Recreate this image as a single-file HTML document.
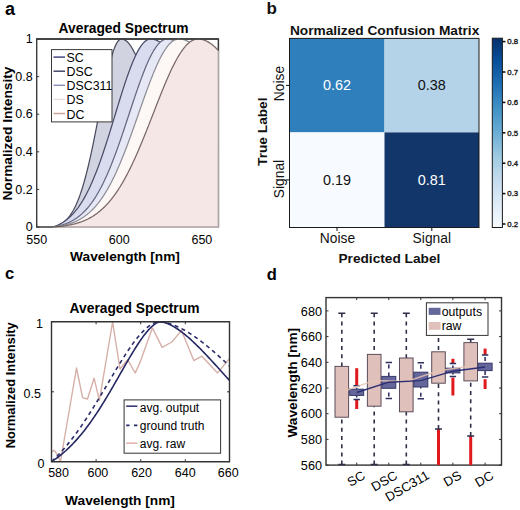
<!DOCTYPE html>
<html><head><meta charset="utf-8"><style>
html,body{margin:0;padding:0;background:#fff;}
svg{display:block;font-family:"Liberation Sans", sans-serif;}
</style></head><body>
<svg width="520" height="510" viewBox="0 0 520 510">
<rect width="520" height="510" fill="#fff"/>
<clipPath id="clipa"><rect x="36.70" y="39.00" width="181.70" height="188.00"/></clipPath>
<path d="M36.7,39.0 H218.4 V227.0 H36.7 Z" fill="none" stroke="#3a3a3a" stroke-width="1.4"/>
<line x1="36.7" y1="227.0" x2="39.2" y2="227.0" stroke="#3a3a3a" stroke-width="1"/>
<text x="32.7" y="231.2" text-anchor="end" font-size="12.5">0</text>
<line x1="36.7" y1="189.4" x2="39.2" y2="189.4" stroke="#3a3a3a" stroke-width="1"/>
<text x="32.7" y="193.6" text-anchor="end" font-size="12.5">0.2</text>
<line x1="36.7" y1="151.8" x2="39.2" y2="151.8" stroke="#3a3a3a" stroke-width="1"/>
<text x="32.7" y="156.0" text-anchor="end" font-size="12.5">0.4</text>
<line x1="36.7" y1="114.2" x2="39.2" y2="114.2" stroke="#3a3a3a" stroke-width="1"/>
<text x="32.7" y="118.4" text-anchor="end" font-size="12.5">0.6</text>
<line x1="36.7" y1="76.6" x2="39.2" y2="76.6" stroke="#3a3a3a" stroke-width="1"/>
<text x="32.7" y="80.8" text-anchor="end" font-size="12.5">0.8</text>
<line x1="36.7" y1="39.0" x2="39.2" y2="39.0" stroke="#3a3a3a" stroke-width="1"/>
<text x="32.7" y="43.2" text-anchor="end" font-size="12.5">1</text>
<line x1="36.7" y1="227.0" x2="36.7" y2="224.5" stroke="#3a3a3a" stroke-width="1"/>
<text x="36.7" y="243.5" text-anchor="middle" font-size="12.5">550</text>
<line x1="119.3" y1="227.0" x2="119.3" y2="224.5" stroke="#3a3a3a" stroke-width="1"/>
<text x="119.3" y="243.5" text-anchor="middle" font-size="12.5">600</text>
<line x1="201.9" y1="227.0" x2="201.9" y2="224.5" stroke="#3a3a3a" stroke-width="1"/>
<text x="201.9" y="243.5" text-anchor="middle" font-size="12.5">650</text>
<clipPath id="clipa2"><rect x="36.70" y="38.00" width="182.70" height="190.00"/></clipPath>
<g clip-path="url(#clipa2)">
<path d="M53.22,227.00 L54.04,226.79 L54.87,226.56 L55.70,226.30 L56.52,226.02 L57.35,225.71 L58.17,225.37 L59.00,225.00 L59.83,224.59 L60.65,224.14 L61.48,223.65 L62.30,223.12 L63.13,222.55 L63.95,221.92 L64.78,221.24 L65.61,220.50 L66.43,219.70 L67.26,218.84 L68.08,217.92 L68.91,216.92 L69.74,215.85 L70.56,214.70 L71.39,213.47 L72.21,212.16 L73.04,210.76 L73.87,209.27 L74.69,207.68 L75.52,205.99 L76.34,204.20 L77.17,202.31 L78.00,200.31 L78.82,198.20 L79.65,195.99 L80.47,193.65 L81.30,191.21 L82.12,188.65 L82.95,185.97 L83.78,183.18 L84.60,180.27 L85.43,177.24 L86.25,174.10 L87.08,170.86 L87.91,167.50 L88.73,164.03 L89.56,160.47 L90.38,156.80 L91.21,153.04 L92.04,149.20 L92.86,145.28 L93.69,141.28 L94.51,137.21 L95.34,133.09 L96.17,128.92 L96.99,124.72 L97.82,120.48 L98.64,116.22 L99.47,111.96 L100.30,107.70 L101.12,103.46 L101.95,99.25 L102.77,95.08 L103.60,90.97 L104.42,86.92 L105.25,82.95 L106.08,79.08 L106.90,75.32 L107.73,71.68 L108.55,68.17 L109.38,64.81 L110.21,61.61 L111.03,58.58 L111.86,55.73 L112.68,53.07 L113.51,50.62 L114.34,48.39 L115.16,46.37 L115.99,44.59 L116.81,43.04 L117.64,41.73 L118.47,40.68 L119.29,39.88 L120.12,39.33 L120.94,39.05 L121.77,39.01 L122.59,39.11 L123.42,39.32 L124.25,39.65 L125.07,40.09 L125.90,40.64 L126.72,41.30 L127.55,42.07 L128.38,42.94 L129.20,43.92 L130.03,45.01 L130.85,46.20 L131.68,47.48 L132.51,48.87 L133.33,50.35 L134.16,51.92 L134.98,53.59 L135.81,55.34 L136.63,57.18 L137.46,59.10 L138.29,61.09 L139.11,63.17 L139.94,65.31 L140.76,67.52 L141.59,69.80 L142.42,72.13 L143.24,74.53 L144.07,76.98 L144.89,79.48 L145.72,82.02 L146.55,84.61 L147.37,87.23 L148.20,89.89 L149.02,92.58 L149.85,95.30 L150.68,98.05 L151.50,100.81 L152.33,103.59 L153.15,106.38 L153.98,109.18 L154.81,111.98 L155.63,114.79 L156.46,117.59 L157.28,120.40 L158.11,123.19 L158.93,125.97 L159.76,128.74 L160.59,131.49 L161.41,134.22 L162.24,136.93 L163.06,139.62 L163.89,142.28 L164.72,144.91 L165.54,147.51 L166.37,150.07 L167.19,152.60 L168.02,155.09 L168.85,157.54 L169.67,159.95 L170.50,162.32 L171.32,164.65 L172.15,166.93 L172.97,169.16 L173.80,171.35 L174.63,173.49 L175.45,175.59 L176.28,177.63 L177.10,179.63 L177.93,181.57 L178.76,183.47 L179.58,185.31 L180.41,187.11 L181.23,188.85 L182.06,190.54 L182.89,192.19 L183.71,193.78 L184.54,195.33 L185.36,196.82 L186.19,198.27 L187.02,199.67 L187.84,201.02 L188.67,202.32 L189.49,203.58 L190.32,204.79 L191.14,205.96 L191.97,207.08 L192.80,208.16 L193.62,209.20 L194.45,210.19 L195.27,211.15 L196.10,212.07 L196.93,212.95 L197.75,213.79 L198.58,214.59 L199.40,215.36 L200.23,216.10 L201.06,216.80 L201.88,217.47 L202.71,218.11 L203.53,218.72 L204.36,219.30 L205.19,219.85 L206.01,220.37 L206.84,220.87 L207.66,221.34 L208.49,221.79 L209.31,222.22 L210.14,222.62 L210.97,223.00 L211.79,223.36 L212.62,223.71 L213.44,224.03 L214.27,224.33 L215.10,224.62 L215.92,224.89 L216.75,225.15 L217.57,225.39 L218.40,225.62 L219.40,225.62 L219.40,228.00 L53.22,228.00 Z" fill="#d2d3e0" stroke="none"/>
<path d="M53.22,227.00 L54.04,226.79 L54.87,226.56 L55.70,226.30 L56.52,226.02 L57.35,225.71 L58.17,225.37 L59.00,225.00 L59.83,224.59 L60.65,224.14 L61.48,223.65 L62.30,223.12 L63.13,222.55 L63.95,221.92 L64.78,221.24 L65.61,220.50 L66.43,219.70 L67.26,218.84 L68.08,217.92 L68.91,216.92 L69.74,215.85 L70.56,214.70 L71.39,213.47 L72.21,212.16 L73.04,210.76 L73.87,209.27 L74.69,207.68 L75.52,205.99 L76.34,204.20 L77.17,202.31 L78.00,200.31 L78.82,198.20 L79.65,195.99 L80.47,193.65 L81.30,191.21 L82.12,188.65 L82.95,185.97 L83.78,183.18 L84.60,180.27 L85.43,177.24 L86.25,174.10 L87.08,170.86 L87.91,167.50 L88.73,164.03 L89.56,160.47 L90.38,156.80 L91.21,153.04 L92.04,149.20 L92.86,145.28 L93.69,141.28 L94.51,137.21 L95.34,133.09 L96.17,128.92 L96.99,124.72 L97.82,120.48 L98.64,116.22 L99.47,111.96 L100.30,107.70 L101.12,103.46 L101.95,99.25 L102.77,95.08 L103.60,90.97 L104.42,86.92 L105.25,82.95 L106.08,79.08 L106.90,75.32 L107.73,71.68 L108.55,68.17 L109.38,64.81 L110.21,61.61 L111.03,58.58 L111.86,55.73 L112.68,53.07 L113.51,50.62 L114.34,48.39 L115.16,46.37 L115.99,44.59 L116.81,43.04 L117.64,41.73 L118.47,40.68 L119.29,39.88 L120.12,39.33 L120.94,39.05 L121.77,39.01 L122.59,39.11 L123.42,39.32 L124.25,39.65 L125.07,40.09 L125.90,40.64 L126.72,41.30 L127.55,42.07 L128.38,42.94 L129.20,43.92 L130.03,45.01 L130.85,46.20 L131.68,47.48 L132.51,48.87 L133.33,50.35 L134.16,51.92 L134.98,53.59 L135.81,55.34 L136.63,57.18 L137.46,59.10 L138.29,61.09 L139.11,63.17 L139.94,65.31 L140.76,67.52 L141.59,69.80 L142.42,72.13 L143.24,74.53 L144.07,76.98 L144.89,79.48 L145.72,82.02 L146.55,84.61 L147.37,87.23 L148.20,89.89 L149.02,92.58 L149.85,95.30 L150.68,98.05 L151.50,100.81 L152.33,103.59 L153.15,106.38 L153.98,109.18 L154.81,111.98 L155.63,114.79 L156.46,117.59 L157.28,120.40 L158.11,123.19 L158.93,125.97 L159.76,128.74 L160.59,131.49 L161.41,134.22 L162.24,136.93 L163.06,139.62 L163.89,142.28 L164.72,144.91 L165.54,147.51 L166.37,150.07 L167.19,152.60 L168.02,155.09 L168.85,157.54 L169.67,159.95 L170.50,162.32 L171.32,164.65 L172.15,166.93 L172.97,169.16 L173.80,171.35 L174.63,173.49 L175.45,175.59 L176.28,177.63 L177.10,179.63 L177.93,181.57 L178.76,183.47 L179.58,185.31 L180.41,187.11 L181.23,188.85 L182.06,190.54 L182.89,192.19 L183.71,193.78 L184.54,195.33 L185.36,196.82 L186.19,198.27 L187.02,199.67 L187.84,201.02 L188.67,202.32 L189.49,203.58 L190.32,204.79 L191.14,205.96 L191.97,207.08 L192.80,208.16 L193.62,209.20 L194.45,210.19 L195.27,211.15 L196.10,212.07 L196.93,212.95 L197.75,213.79 L198.58,214.59 L199.40,215.36 L200.23,216.10 L201.06,216.80 L201.88,217.47 L202.71,218.11 L203.53,218.72 L204.36,219.30 L205.19,219.85 L206.01,220.37 L206.84,220.87 L207.66,221.34 L208.49,221.79 L209.31,222.22 L210.14,222.62 L210.97,223.00 L211.79,223.36 L212.62,223.71 L213.44,224.03 L214.27,224.33 L215.10,224.62 L215.92,224.89 L216.75,225.15 L217.57,225.39 L218.40,225.62" fill="none" stroke="#4a4b60" stroke-width="1.25"/>
<path d="M53.22,227.00 L54.04,226.71 L54.87,226.40 L55.70,226.07 L56.52,225.73 L57.35,225.37 L58.17,224.98 L59.00,224.58 L59.83,224.16 L60.65,223.71 L61.48,223.24 L62.30,222.75 L63.13,222.24 L63.95,221.70 L64.78,221.13 L65.61,220.53 L66.43,219.91 L67.26,219.26 L68.08,218.58 L68.91,217.86 L69.74,217.12 L70.56,216.34 L71.39,215.54 L72.21,214.69 L73.04,213.81 L73.87,212.90 L74.69,211.94 L75.52,210.95 L76.34,209.93 L77.17,208.86 L78.00,207.75 L78.82,206.60 L79.65,205.41 L80.47,204.18 L81.30,202.90 L82.12,201.58 L82.95,200.22 L83.78,198.81 L84.60,197.36 L85.43,195.86 L86.25,194.32 L87.08,192.73 L87.91,191.09 L88.73,189.41 L89.56,187.68 L90.38,185.91 L91.21,184.09 L92.04,182.22 L92.86,180.30 L93.69,178.34 L94.51,176.34 L95.34,174.29 L96.17,172.20 L96.99,170.06 L97.82,167.88 L98.64,165.66 L99.47,163.40 L100.30,161.10 L101.12,158.75 L101.95,156.38 L102.77,153.96 L103.60,151.52 L104.42,149.04 L105.25,146.52 L106.08,143.98 L106.90,141.42 L107.73,138.82 L108.55,136.21 L109.38,133.57 L110.21,130.91 L111.03,128.24 L111.86,125.55 L112.68,122.86 L113.51,120.15 L114.34,117.44 L115.16,114.73 L115.99,112.01 L116.81,109.30 L117.64,106.60 L118.47,103.90 L119.29,101.22 L120.12,98.55 L120.94,95.90 L121.77,93.27 L122.59,90.67 L123.42,88.09 L124.25,85.55 L125.07,83.04 L125.90,80.58 L126.72,78.15 L127.55,75.77 L128.38,73.43 L129.20,71.15 L130.03,68.93 L130.85,66.76 L131.68,64.65 L132.51,62.61 L133.33,60.64 L134.16,58.73 L134.98,56.90 L135.81,55.14 L136.63,53.47 L137.46,51.87 L138.29,50.36 L139.11,48.93 L139.94,47.60 L140.76,46.35 L141.59,45.20 L142.42,44.13 L143.24,43.17 L144.07,42.30 L144.89,41.53 L145.72,40.86 L146.55,40.30 L147.37,39.83 L148.20,39.47 L149.02,39.21 L149.85,39.05 L150.68,39.00 L151.50,39.03 L152.33,39.10 L153.15,39.23 L153.98,39.40 L154.81,39.62 L155.63,39.90 L156.46,40.22 L157.28,40.60 L158.11,41.02 L158.93,41.49 L159.76,42.01 L160.59,42.57 L161.41,43.18 L162.24,43.84 L163.06,44.55 L163.89,45.30 L164.72,46.10 L165.54,46.94 L166.37,47.83 L167.19,48.76 L168.02,49.73 L168.85,50.74 L169.67,51.80 L170.50,52.89 L171.32,54.03 L172.15,55.20 L172.97,56.41 L173.80,57.66 L174.63,58.94 L175.45,60.26 L176.28,61.61 L177.10,63.00 L177.93,64.42 L178.76,65.87 L179.58,67.35 L180.41,68.86 L181.23,70.39 L182.06,71.96 L182.89,73.55 L183.71,75.16 L184.54,76.80 L185.36,78.46 L186.19,80.14 L187.02,81.84 L187.84,83.57 L188.67,85.31 L189.49,87.06 L190.32,88.84 L191.14,90.63 L191.97,92.43 L192.80,94.24 L193.62,96.07 L194.45,97.90 L195.27,99.75 L196.10,101.60 L196.93,103.47 L197.75,105.33 L198.58,107.21 L199.40,109.08 L200.23,110.96 L201.06,112.84 L201.88,114.73 L202.71,116.61 L203.53,118.49 L204.36,120.37 L205.19,122.25 L206.01,124.12 L206.84,125.99 L207.66,127.85 L208.49,129.71 L209.31,131.56 L210.14,133.40 L210.97,135.23 L211.79,137.05 L212.62,138.86 L213.44,140.67 L214.27,142.45 L215.10,144.23 L215.92,145.99 L216.75,147.74 L217.57,149.48 L218.40,151.20 L219.40,151.20 L219.40,228.00 L53.22,228.00 Z" fill="#d9dcef" stroke="none"/>
<path d="M53.22,227.00 L54.04,226.71 L54.87,226.40 L55.70,226.07 L56.52,225.73 L57.35,225.37 L58.17,224.98 L59.00,224.58 L59.83,224.16 L60.65,223.71 L61.48,223.24 L62.30,222.75 L63.13,222.24 L63.95,221.70 L64.78,221.13 L65.61,220.53 L66.43,219.91 L67.26,219.26 L68.08,218.58 L68.91,217.86 L69.74,217.12 L70.56,216.34 L71.39,215.54 L72.21,214.69 L73.04,213.81 L73.87,212.90 L74.69,211.94 L75.52,210.95 L76.34,209.93 L77.17,208.86 L78.00,207.75 L78.82,206.60 L79.65,205.41 L80.47,204.18 L81.30,202.90 L82.12,201.58 L82.95,200.22 L83.78,198.81 L84.60,197.36 L85.43,195.86 L86.25,194.32 L87.08,192.73 L87.91,191.09 L88.73,189.41 L89.56,187.68 L90.38,185.91 L91.21,184.09 L92.04,182.22 L92.86,180.30 L93.69,178.34 L94.51,176.34 L95.34,174.29 L96.17,172.20 L96.99,170.06 L97.82,167.88 L98.64,165.66 L99.47,163.40 L100.30,161.10 L101.12,158.75 L101.95,156.38 L102.77,153.96 L103.60,151.52 L104.42,149.04 L105.25,146.52 L106.08,143.98 L106.90,141.42 L107.73,138.82 L108.55,136.21 L109.38,133.57 L110.21,130.91 L111.03,128.24 L111.86,125.55 L112.68,122.86 L113.51,120.15 L114.34,117.44 L115.16,114.73 L115.99,112.01 L116.81,109.30 L117.64,106.60 L118.47,103.90 L119.29,101.22 L120.12,98.55 L120.94,95.90 L121.77,93.27 L122.59,90.67 L123.42,88.09 L124.25,85.55 L125.07,83.04 L125.90,80.58 L126.72,78.15 L127.55,75.77 L128.38,73.43 L129.20,71.15 L130.03,68.93 L130.85,66.76 L131.68,64.65 L132.51,62.61 L133.33,60.64 L134.16,58.73 L134.98,56.90 L135.81,55.14 L136.63,53.47 L137.46,51.87 L138.29,50.36 L139.11,48.93 L139.94,47.60 L140.76,46.35 L141.59,45.20 L142.42,44.13 L143.24,43.17 L144.07,42.30 L144.89,41.53 L145.72,40.86 L146.55,40.30 L147.37,39.83 L148.20,39.47 L149.02,39.21 L149.85,39.05 L150.68,39.00 L151.50,39.03 L152.33,39.10 L153.15,39.23 L153.98,39.40 L154.81,39.62 L155.63,39.90 L156.46,40.22 L157.28,40.60 L158.11,41.02 L158.93,41.49 L159.76,42.01 L160.59,42.57 L161.41,43.18 L162.24,43.84 L163.06,44.55 L163.89,45.30 L164.72,46.10 L165.54,46.94 L166.37,47.83 L167.19,48.76 L168.02,49.73 L168.85,50.74 L169.67,51.80 L170.50,52.89 L171.32,54.03 L172.15,55.20 L172.97,56.41 L173.80,57.66 L174.63,58.94 L175.45,60.26 L176.28,61.61 L177.10,63.00 L177.93,64.42 L178.76,65.87 L179.58,67.35 L180.41,68.86 L181.23,70.39 L182.06,71.96 L182.89,73.55 L183.71,75.16 L184.54,76.80 L185.36,78.46 L186.19,80.14 L187.02,81.84 L187.84,83.57 L188.67,85.31 L189.49,87.06 L190.32,88.84 L191.14,90.63 L191.97,92.43 L192.80,94.24 L193.62,96.07 L194.45,97.90 L195.27,99.75 L196.10,101.60 L196.93,103.47 L197.75,105.33 L198.58,107.21 L199.40,109.08 L200.23,110.96 L201.06,112.84 L201.88,114.73 L202.71,116.61 L203.53,118.49 L204.36,120.37 L205.19,122.25 L206.01,124.12 L206.84,125.99 L207.66,127.85 L208.49,129.71 L209.31,131.56 L210.14,133.40 L210.97,135.23 L211.79,137.05 L212.62,138.86 L213.44,140.67 L214.27,142.45 L215.10,144.23 L215.92,145.99 L216.75,147.74 L217.57,149.48 L218.40,151.20" fill="none" stroke="#4a4c68" stroke-width="1.25"/>
<path d="M53.22,227.00 L54.04,226.86 L54.87,226.71 L55.70,226.55 L56.52,226.38 L57.35,226.20 L58.17,226.02 L59.00,225.82 L59.83,225.61 L60.65,225.39 L61.48,225.15 L62.30,224.91 L63.13,224.65 L63.95,224.37 L64.78,224.09 L65.61,223.79 L66.43,223.47 L67.26,223.13 L68.08,222.78 L68.91,222.42 L69.74,222.03 L70.56,221.63 L71.39,221.20 L72.21,220.76 L73.04,220.29 L73.87,219.81 L74.69,219.30 L75.52,218.77 L76.34,218.22 L77.17,217.64 L78.00,217.03 L78.82,216.40 L79.65,215.75 L80.47,215.06 L81.30,214.35 L82.12,213.61 L82.95,212.84 L83.78,212.04 L84.60,211.21 L85.43,210.35 L86.25,209.46 L87.08,208.53 L87.91,207.57 L88.73,206.58 L89.56,205.55 L90.38,204.48 L91.21,203.38 L92.04,202.25 L92.86,201.07 L93.69,199.86 L94.51,198.61 L95.34,197.32 L96.17,196.00 L96.99,194.63 L97.82,193.23 L98.64,191.78 L99.47,190.30 L100.30,188.77 L101.12,187.21 L101.95,185.61 L102.77,183.96 L103.60,182.28 L104.42,180.55 L105.25,178.79 L106.08,176.99 L106.90,175.14 L107.73,173.26 L108.55,171.34 L109.38,169.39 L110.21,167.39 L111.03,165.36 L111.86,163.29 L112.68,161.19 L113.51,159.06 L114.34,156.89 L115.16,154.69 L115.99,152.46 L116.81,150.20 L117.64,147.91 L118.47,145.59 L119.29,143.25 L120.12,140.89 L120.94,138.50 L121.77,136.09 L122.59,133.66 L123.42,131.22 L124.25,128.76 L125.07,126.29 L125.90,123.81 L126.72,121.31 L127.55,118.81 L128.38,116.31 L129.20,113.80 L130.03,111.30 L130.85,108.79 L131.68,106.29 L132.51,103.80 L133.33,101.32 L134.16,98.85 L134.98,96.40 L135.81,93.96 L136.63,91.54 L137.46,89.15 L138.29,86.78 L139.11,84.44 L139.94,82.13 L140.76,79.86 L141.59,77.62 L142.42,75.42 L143.24,73.26 L144.07,71.15 L144.89,69.08 L145.72,67.07 L146.55,65.10 L147.37,63.19 L148.20,61.34 L149.02,59.55 L149.85,57.81 L150.68,56.15 L151.50,54.54 L152.33,53.01 L153.15,51.55 L153.98,50.16 L154.81,48.84 L155.63,47.60 L156.46,46.44 L157.28,45.36 L158.11,44.36 L158.93,43.44 L159.76,42.60 L160.59,41.85 L161.41,41.19 L162.24,40.61 L163.06,40.12 L163.89,39.72 L164.72,39.40 L165.54,39.18 L166.37,39.04 L167.19,39.00 L168.02,39.02 L168.85,39.09 L169.67,39.20 L170.50,39.35 L171.32,39.54 L172.15,39.78 L172.97,40.07 L173.80,40.39 L174.63,40.76 L175.45,41.17 L176.28,41.62 L177.10,42.12 L177.93,42.65 L178.76,43.23 L179.58,43.85 L180.41,44.51 L181.23,45.20 L182.06,45.94 L182.89,46.72 L183.71,47.53 L184.54,48.38 L185.36,49.27 L186.19,50.20 L187.02,51.16 L187.84,52.16 L188.67,53.19 L189.49,54.26 L190.32,55.36 L191.14,56.49 L191.97,57.66 L192.80,58.86 L193.62,60.08 L194.45,61.34 L195.27,62.62 L196.10,63.94 L196.93,65.28 L197.75,66.65 L198.58,68.04 L199.40,69.46 L200.23,70.90 L201.06,72.36 L201.88,73.85 L202.71,75.35 L203.53,76.88 L204.36,78.43 L205.19,80.00 L206.01,81.58 L206.84,83.18 L207.66,84.79 L208.49,86.43 L209.31,88.07 L210.14,89.73 L210.97,91.40 L211.79,93.08 L212.62,94.77 L213.44,96.47 L214.27,98.18 L215.10,99.90 L215.92,101.62 L216.75,103.35 L217.57,105.08 L218.40,106.82 L219.40,106.82 L219.40,228.00 L53.22,228.00 Z" fill="#e7e8f6" stroke="none"/>
<path d="M53.22,227.00 L54.04,226.86 L54.87,226.71 L55.70,226.55 L56.52,226.38 L57.35,226.20 L58.17,226.02 L59.00,225.82 L59.83,225.61 L60.65,225.39 L61.48,225.15 L62.30,224.91 L63.13,224.65 L63.95,224.37 L64.78,224.09 L65.61,223.79 L66.43,223.47 L67.26,223.13 L68.08,222.78 L68.91,222.42 L69.74,222.03 L70.56,221.63 L71.39,221.20 L72.21,220.76 L73.04,220.29 L73.87,219.81 L74.69,219.30 L75.52,218.77 L76.34,218.22 L77.17,217.64 L78.00,217.03 L78.82,216.40 L79.65,215.75 L80.47,215.06 L81.30,214.35 L82.12,213.61 L82.95,212.84 L83.78,212.04 L84.60,211.21 L85.43,210.35 L86.25,209.46 L87.08,208.53 L87.91,207.57 L88.73,206.58 L89.56,205.55 L90.38,204.48 L91.21,203.38 L92.04,202.25 L92.86,201.07 L93.69,199.86 L94.51,198.61 L95.34,197.32 L96.17,196.00 L96.99,194.63 L97.82,193.23 L98.64,191.78 L99.47,190.30 L100.30,188.77 L101.12,187.21 L101.95,185.61 L102.77,183.96 L103.60,182.28 L104.42,180.55 L105.25,178.79 L106.08,176.99 L106.90,175.14 L107.73,173.26 L108.55,171.34 L109.38,169.39 L110.21,167.39 L111.03,165.36 L111.86,163.29 L112.68,161.19 L113.51,159.06 L114.34,156.89 L115.16,154.69 L115.99,152.46 L116.81,150.20 L117.64,147.91 L118.47,145.59 L119.29,143.25 L120.12,140.89 L120.94,138.50 L121.77,136.09 L122.59,133.66 L123.42,131.22 L124.25,128.76 L125.07,126.29 L125.90,123.81 L126.72,121.31 L127.55,118.81 L128.38,116.31 L129.20,113.80 L130.03,111.30 L130.85,108.79 L131.68,106.29 L132.51,103.80 L133.33,101.32 L134.16,98.85 L134.98,96.40 L135.81,93.96 L136.63,91.54 L137.46,89.15 L138.29,86.78 L139.11,84.44 L139.94,82.13 L140.76,79.86 L141.59,77.62 L142.42,75.42 L143.24,73.26 L144.07,71.15 L144.89,69.08 L145.72,67.07 L146.55,65.10 L147.37,63.19 L148.20,61.34 L149.02,59.55 L149.85,57.81 L150.68,56.15 L151.50,54.54 L152.33,53.01 L153.15,51.55 L153.98,50.16 L154.81,48.84 L155.63,47.60 L156.46,46.44 L157.28,45.36 L158.11,44.36 L158.93,43.44 L159.76,42.60 L160.59,41.85 L161.41,41.19 L162.24,40.61 L163.06,40.12 L163.89,39.72 L164.72,39.40 L165.54,39.18 L166.37,39.04 L167.19,39.00 L168.02,39.02 L168.85,39.09 L169.67,39.20 L170.50,39.35 L171.32,39.54 L172.15,39.78 L172.97,40.07 L173.80,40.39 L174.63,40.76 L175.45,41.17 L176.28,41.62 L177.10,42.12 L177.93,42.65 L178.76,43.23 L179.58,43.85 L180.41,44.51 L181.23,45.20 L182.06,45.94 L182.89,46.72 L183.71,47.53 L184.54,48.38 L185.36,49.27 L186.19,50.20 L187.02,51.16 L187.84,52.16 L188.67,53.19 L189.49,54.26 L190.32,55.36 L191.14,56.49 L191.97,57.66 L192.80,58.86 L193.62,60.08 L194.45,61.34 L195.27,62.62 L196.10,63.94 L196.93,65.28 L197.75,66.65 L198.58,68.04 L199.40,69.46 L200.23,70.90 L201.06,72.36 L201.88,73.85 L202.71,75.35 L203.53,76.88 L204.36,78.43 L205.19,80.00 L206.01,81.58 L206.84,83.18 L207.66,84.79 L208.49,86.43 L209.31,88.07 L210.14,89.73 L210.97,91.40 L211.79,93.08 L212.62,94.77 L213.44,96.47 L214.27,98.18 L215.10,99.90 L215.92,101.62 L216.75,103.35 L217.57,105.08 L218.40,106.82" fill="none" stroke="#666780" stroke-width="1.25"/>
<path d="M53.22,227.00 L54.04,226.91 L54.87,226.81 L55.70,226.70 L56.52,226.59 L57.35,226.47 L58.17,226.35 L59.00,226.21 L59.83,226.07 L60.65,225.93 L61.48,225.77 L62.30,225.61 L63.13,225.43 L63.95,225.25 L64.78,225.06 L65.61,224.86 L66.43,224.65 L67.26,224.42 L68.08,224.19 L68.91,223.94 L69.74,223.69 L70.56,223.41 L71.39,223.13 L72.21,222.83 L73.04,222.52 L73.87,222.19 L74.69,221.85 L75.52,221.49 L76.34,221.11 L77.17,220.72 L78.00,220.31 L78.82,219.88 L79.65,219.44 L80.47,218.97 L81.30,218.48 L82.12,217.98 L82.95,217.45 L83.78,216.90 L84.60,216.33 L85.43,215.73 L86.25,215.11 L87.08,214.47 L87.91,213.80 L88.73,213.11 L89.56,212.39 L90.38,211.64 L91.21,210.87 L92.04,210.06 L92.86,209.23 L93.69,208.37 L94.51,207.49 L95.34,206.57 L96.17,205.62 L96.99,204.63 L97.82,203.62 L98.64,202.58 L99.47,201.50 L100.30,200.39 L101.12,199.24 L101.95,198.06 L102.77,196.85 L103.60,195.61 L104.42,194.32 L105.25,193.01 L106.08,191.65 L106.90,190.27 L107.73,188.84 L108.55,187.38 L109.38,185.89 L110.21,184.36 L111.03,182.79 L111.86,181.19 L112.68,179.55 L113.51,177.88 L114.34,176.17 L115.16,174.43 L115.99,172.65 L116.81,170.84 L117.64,168.99 L118.47,167.12 L119.29,165.21 L120.12,163.26 L120.94,161.29 L121.77,159.28 L122.59,157.25 L123.42,155.19 L124.25,153.09 L125.07,150.98 L125.90,148.83 L126.72,146.66 L127.55,144.47 L128.38,142.26 L129.20,140.02 L130.03,137.77 L130.85,135.49 L131.68,133.20 L132.51,130.90 L133.33,128.58 L134.16,126.25 L134.98,123.91 L135.81,121.56 L136.63,119.20 L137.46,116.84 L138.29,114.48 L139.11,112.11 L139.94,109.75 L140.76,107.39 L141.59,105.04 L142.42,102.69 L143.24,100.35 L144.07,98.03 L144.89,95.72 L145.72,93.42 L146.55,91.15 L147.37,88.89 L148.20,86.66 L149.02,84.45 L149.85,82.27 L150.68,80.12 L151.50,78.00 L152.33,75.92 L153.15,73.87 L153.98,71.86 L154.81,69.89 L155.63,67.97 L156.46,66.09 L157.28,64.26 L158.11,62.47 L158.93,60.74 L159.76,59.07 L160.59,57.45 L161.41,55.88 L162.24,54.38 L163.06,52.94 L163.89,51.56 L164.72,50.24 L165.54,48.99 L166.37,47.81 L167.19,46.70 L168.02,45.66 L168.85,44.69 L169.67,43.79 L170.50,42.97 L171.32,42.22 L172.15,41.55 L172.97,40.95 L173.80,40.44 L174.63,40.00 L175.45,39.64 L176.28,39.36 L177.10,39.16 L177.93,39.04 L178.76,39.00 L179.58,39.02 L180.41,39.08 L181.23,39.17 L182.06,39.31 L182.89,39.48 L183.71,39.69 L184.54,39.94 L185.36,40.23 L186.19,40.56 L187.02,40.92 L187.84,41.32 L188.67,41.76 L189.49,42.24 L190.32,42.75 L191.14,43.30 L191.97,43.88 L192.80,44.50 L193.62,45.16 L194.45,45.85 L195.27,46.58 L196.10,47.34 L196.93,48.13 L197.75,48.95 L198.58,49.81 L199.40,50.70 L200.23,51.63 L201.06,52.58 L201.88,53.56 L202.71,54.58 L203.53,55.62 L204.36,56.69 L205.19,57.79 L206.01,58.92 L206.84,60.08 L207.66,61.26 L208.49,62.46 L209.31,63.70 L210.14,64.95 L210.97,66.23 L211.79,67.53 L212.62,68.86 L213.44,70.20 L214.27,71.57 L215.10,72.96 L215.92,74.36 L216.75,75.79 L217.57,77.23 L218.40,78.69 L219.40,78.69 L219.40,228.00 L53.22,228.00 Z" fill="#fdf8f5" stroke="none"/>
<path d="M53.22,227.00 L54.04,226.91 L54.87,226.81 L55.70,226.70 L56.52,226.59 L57.35,226.47 L58.17,226.35 L59.00,226.21 L59.83,226.07 L60.65,225.93 L61.48,225.77 L62.30,225.61 L63.13,225.43 L63.95,225.25 L64.78,225.06 L65.61,224.86 L66.43,224.65 L67.26,224.42 L68.08,224.19 L68.91,223.94 L69.74,223.69 L70.56,223.41 L71.39,223.13 L72.21,222.83 L73.04,222.52 L73.87,222.19 L74.69,221.85 L75.52,221.49 L76.34,221.11 L77.17,220.72 L78.00,220.31 L78.82,219.88 L79.65,219.44 L80.47,218.97 L81.30,218.48 L82.12,217.98 L82.95,217.45 L83.78,216.90 L84.60,216.33 L85.43,215.73 L86.25,215.11 L87.08,214.47 L87.91,213.80 L88.73,213.11 L89.56,212.39 L90.38,211.64 L91.21,210.87 L92.04,210.06 L92.86,209.23 L93.69,208.37 L94.51,207.49 L95.34,206.57 L96.17,205.62 L96.99,204.63 L97.82,203.62 L98.64,202.58 L99.47,201.50 L100.30,200.39 L101.12,199.24 L101.95,198.06 L102.77,196.85 L103.60,195.61 L104.42,194.32 L105.25,193.01 L106.08,191.65 L106.90,190.27 L107.73,188.84 L108.55,187.38 L109.38,185.89 L110.21,184.36 L111.03,182.79 L111.86,181.19 L112.68,179.55 L113.51,177.88 L114.34,176.17 L115.16,174.43 L115.99,172.65 L116.81,170.84 L117.64,168.99 L118.47,167.12 L119.29,165.21 L120.12,163.26 L120.94,161.29 L121.77,159.28 L122.59,157.25 L123.42,155.19 L124.25,153.09 L125.07,150.98 L125.90,148.83 L126.72,146.66 L127.55,144.47 L128.38,142.26 L129.20,140.02 L130.03,137.77 L130.85,135.49 L131.68,133.20 L132.51,130.90 L133.33,128.58 L134.16,126.25 L134.98,123.91 L135.81,121.56 L136.63,119.20 L137.46,116.84 L138.29,114.48 L139.11,112.11 L139.94,109.75 L140.76,107.39 L141.59,105.04 L142.42,102.69 L143.24,100.35 L144.07,98.03 L144.89,95.72 L145.72,93.42 L146.55,91.15 L147.37,88.89 L148.20,86.66 L149.02,84.45 L149.85,82.27 L150.68,80.12 L151.50,78.00 L152.33,75.92 L153.15,73.87 L153.98,71.86 L154.81,69.89 L155.63,67.97 L156.46,66.09 L157.28,64.26 L158.11,62.47 L158.93,60.74 L159.76,59.07 L160.59,57.45 L161.41,55.88 L162.24,54.38 L163.06,52.94 L163.89,51.56 L164.72,50.24 L165.54,48.99 L166.37,47.81 L167.19,46.70 L168.02,45.66 L168.85,44.69 L169.67,43.79 L170.50,42.97 L171.32,42.22 L172.15,41.55 L172.97,40.95 L173.80,40.44 L174.63,40.00 L175.45,39.64 L176.28,39.36 L177.10,39.16 L177.93,39.04 L178.76,39.00 L179.58,39.02 L180.41,39.08 L181.23,39.17 L182.06,39.31 L182.89,39.48 L183.71,39.69 L184.54,39.94 L185.36,40.23 L186.19,40.56 L187.02,40.92 L187.84,41.32 L188.67,41.76 L189.49,42.24 L190.32,42.75 L191.14,43.30 L191.97,43.88 L192.80,44.50 L193.62,45.16 L194.45,45.85 L195.27,46.58 L196.10,47.34 L196.93,48.13 L197.75,48.95 L198.58,49.81 L199.40,50.70 L200.23,51.63 L201.06,52.58 L201.88,53.56 L202.71,54.58 L203.53,55.62 L204.36,56.69 L205.19,57.79 L206.01,58.92 L206.84,60.08 L207.66,61.26 L208.49,62.46 L209.31,63.70 L210.14,64.95 L210.97,66.23 L211.79,67.53 L212.62,68.86 L213.44,70.20 L214.27,71.57 L215.10,72.96 L215.92,74.36 L216.75,75.79 L217.57,77.23 L218.40,78.69" fill="none" stroke="#8e8e98" stroke-width="1.25"/>
<path d="M53.22,227.00 L54.04,226.94 L54.87,226.88 L55.70,226.81 L56.52,226.74 L57.35,226.66 L58.17,226.58 L59.00,226.50 L59.83,226.41 L60.65,226.32 L61.48,226.22 L62.30,226.12 L63.13,226.02 L63.95,225.90 L64.78,225.78 L65.61,225.66 L66.43,225.53 L67.26,225.39 L68.08,225.25 L68.91,225.10 L69.74,224.94 L70.56,224.77 L71.39,224.60 L72.21,224.42 L73.04,224.23 L73.87,224.03 L74.69,223.82 L75.52,223.60 L76.34,223.38 L77.17,223.14 L78.00,222.89 L78.82,222.63 L79.65,222.36 L80.47,222.08 L81.30,221.79 L82.12,221.48 L82.95,221.16 L83.78,220.83 L84.60,220.49 L85.43,220.13 L86.25,219.75 L87.08,219.36 L87.91,218.96 L88.73,218.54 L89.56,218.10 L90.38,217.65 L91.21,217.18 L92.04,216.69 L92.86,216.19 L93.69,215.66 L94.51,215.12 L95.34,214.56 L96.17,213.98 L96.99,213.38 L97.82,212.75 L98.64,212.11 L99.47,211.45 L100.30,210.76 L101.12,210.05 L101.95,209.32 L102.77,208.56 L103.60,207.78 L104.42,206.98 L105.25,206.15 L106.08,205.30 L106.90,204.42 L107.73,203.52 L108.55,202.59 L109.38,201.64 L110.21,200.66 L111.03,199.65 L111.86,198.61 L112.68,197.55 L113.51,196.46 L114.34,195.34 L115.16,194.19 L115.99,193.02 L116.81,191.81 L117.64,190.58 L118.47,189.32 L119.29,188.03 L120.12,186.71 L120.94,185.36 L121.77,183.99 L122.59,182.58 L123.42,181.15 L124.25,179.68 L125.07,178.19 L125.90,176.67 L126.72,175.12 L127.55,173.55 L128.38,171.94 L129.20,170.31 L130.03,168.65 L130.85,166.97 L131.68,165.25 L132.51,163.52 L133.33,161.75 L134.16,159.96 L134.98,158.15 L135.81,156.32 L136.63,154.46 L137.46,152.57 L138.29,150.67 L139.11,148.75 L139.94,146.80 L140.76,144.84 L141.59,142.86 L142.42,140.86 L143.24,138.84 L144.07,136.81 L144.89,134.76 L145.72,132.71 L146.55,130.63 L147.37,128.55 L148.20,126.46 L149.02,124.36 L149.85,122.25 L150.68,120.14 L151.50,118.02 L152.33,115.90 L153.15,113.78 L153.98,111.66 L154.81,109.54 L155.63,107.42 L156.46,105.30 L157.28,103.20 L158.11,101.09 L158.93,99.00 L159.76,96.92 L160.59,94.85 L161.41,92.79 L162.24,90.75 L163.06,88.73 L163.89,86.72 L164.72,84.74 L165.54,82.77 L166.37,80.83 L167.19,78.92 L168.02,77.03 L168.85,75.17 L169.67,73.34 L170.50,71.54 L171.32,69.78 L172.15,68.05 L172.97,66.36 L173.80,64.70 L174.63,63.09 L175.45,61.52 L176.28,59.98 L177.10,58.50 L177.93,57.06 L178.76,55.66 L179.58,54.31 L180.41,53.02 L181.23,51.77 L182.06,50.58 L182.89,49.43 L183.71,48.35 L184.54,47.32 L185.36,46.34 L186.19,45.42 L187.02,44.56 L187.84,43.76 L188.67,43.02 L189.49,42.34 L190.32,41.72 L191.14,41.17 L191.97,40.67 L192.80,40.24 L193.62,39.87 L194.45,39.57 L195.27,39.33 L196.10,39.16 L196.93,39.05 L197.75,39.00 L198.58,39.01 L199.40,39.06 L200.23,39.15 L201.06,39.28 L201.88,39.44 L202.71,39.65 L203.53,39.89 L204.36,40.17 L205.19,40.49 L206.01,40.84 L206.84,41.24 L207.66,41.67 L208.49,42.13 L209.31,42.64 L210.14,43.18 L210.97,43.75 L211.79,44.36 L212.62,45.01 L213.44,45.69 L214.27,46.41 L215.10,47.16 L215.92,47.95 L216.75,48.76 L217.57,49.61 L218.40,50.50 L219.40,50.50 L219.40,228.00 L53.22,228.00 Z" fill="#f5e7e5" stroke="none"/>
<path d="M53.22,227.00 L54.04,226.94 L54.87,226.88 L55.70,226.81 L56.52,226.74 L57.35,226.66 L58.17,226.58 L59.00,226.50 L59.83,226.41 L60.65,226.32 L61.48,226.22 L62.30,226.12 L63.13,226.02 L63.95,225.90 L64.78,225.78 L65.61,225.66 L66.43,225.53 L67.26,225.39 L68.08,225.25 L68.91,225.10 L69.74,224.94 L70.56,224.77 L71.39,224.60 L72.21,224.42 L73.04,224.23 L73.87,224.03 L74.69,223.82 L75.52,223.60 L76.34,223.38 L77.17,223.14 L78.00,222.89 L78.82,222.63 L79.65,222.36 L80.47,222.08 L81.30,221.79 L82.12,221.48 L82.95,221.16 L83.78,220.83 L84.60,220.49 L85.43,220.13 L86.25,219.75 L87.08,219.36 L87.91,218.96 L88.73,218.54 L89.56,218.10 L90.38,217.65 L91.21,217.18 L92.04,216.69 L92.86,216.19 L93.69,215.66 L94.51,215.12 L95.34,214.56 L96.17,213.98 L96.99,213.38 L97.82,212.75 L98.64,212.11 L99.47,211.45 L100.30,210.76 L101.12,210.05 L101.95,209.32 L102.77,208.56 L103.60,207.78 L104.42,206.98 L105.25,206.15 L106.08,205.30 L106.90,204.42 L107.73,203.52 L108.55,202.59 L109.38,201.64 L110.21,200.66 L111.03,199.65 L111.86,198.61 L112.68,197.55 L113.51,196.46 L114.34,195.34 L115.16,194.19 L115.99,193.02 L116.81,191.81 L117.64,190.58 L118.47,189.32 L119.29,188.03 L120.12,186.71 L120.94,185.36 L121.77,183.99 L122.59,182.58 L123.42,181.15 L124.25,179.68 L125.07,178.19 L125.90,176.67 L126.72,175.12 L127.55,173.55 L128.38,171.94 L129.20,170.31 L130.03,168.65 L130.85,166.97 L131.68,165.25 L132.51,163.52 L133.33,161.75 L134.16,159.96 L134.98,158.15 L135.81,156.32 L136.63,154.46 L137.46,152.57 L138.29,150.67 L139.11,148.75 L139.94,146.80 L140.76,144.84 L141.59,142.86 L142.42,140.86 L143.24,138.84 L144.07,136.81 L144.89,134.76 L145.72,132.71 L146.55,130.63 L147.37,128.55 L148.20,126.46 L149.02,124.36 L149.85,122.25 L150.68,120.14 L151.50,118.02 L152.33,115.90 L153.15,113.78 L153.98,111.66 L154.81,109.54 L155.63,107.42 L156.46,105.30 L157.28,103.20 L158.11,101.09 L158.93,99.00 L159.76,96.92 L160.59,94.85 L161.41,92.79 L162.24,90.75 L163.06,88.73 L163.89,86.72 L164.72,84.74 L165.54,82.77 L166.37,80.83 L167.19,78.92 L168.02,77.03 L168.85,75.17 L169.67,73.34 L170.50,71.54 L171.32,69.78 L172.15,68.05 L172.97,66.36 L173.80,64.70 L174.63,63.09 L175.45,61.52 L176.28,59.98 L177.10,58.50 L177.93,57.06 L178.76,55.66 L179.58,54.31 L180.41,53.02 L181.23,51.77 L182.06,50.58 L182.89,49.43 L183.71,48.35 L184.54,47.32 L185.36,46.34 L186.19,45.42 L187.02,44.56 L187.84,43.76 L188.67,43.02 L189.49,42.34 L190.32,41.72 L191.14,41.17 L191.97,40.67 L192.80,40.24 L193.62,39.87 L194.45,39.57 L195.27,39.33 L196.10,39.16 L196.93,39.05 L197.75,39.00 L198.58,39.01 L199.40,39.06 L200.23,39.15 L201.06,39.28 L201.88,39.44 L202.71,39.65 L203.53,39.89 L204.36,40.17 L205.19,40.49 L206.01,40.84 L206.84,41.24 L207.66,41.67 L208.49,42.13 L209.31,42.64 L210.14,43.18 L210.97,43.75 L211.79,44.36 L212.62,45.01 L213.44,45.69 L214.27,46.41 L215.10,47.16 L215.92,47.95 L216.75,48.76 L217.57,49.61 L218.40,50.50" fill="none" stroke="#7a6868" stroke-width="1.25"/>
</g>
<path d="M36.7,39.0 H218.4" fill="none" stroke="#3a3a3a" stroke-width="1.4"/>
<path d="M52.7,227.0 H218.4 V39.0" fill="none" stroke="#3a3a3a" stroke-width="1.4" opacity="0.4"/>
<text x="125" y="260.5" text-anchor="middle" font-size="13.7" font-weight="bold">Wavelength [nm]</text>
<text transform="translate(12.3,133.5) rotate(-90)" text-anchor="middle" font-size="13.7" font-weight="bold">Normalized Intensity</text>
<text x="123.5" y="33.4" text-anchor="middle" font-size="13.8" font-weight="bold">Averaged Spectrum</text>
<text x="5" y="14.5" font-size="18" font-weight="bold">a</text>
<rect x="51.5" y="49.6" width="60.5" height="72.3" fill="#fff" stroke="#3a3a3a" stroke-width="1"/>
<line x1="53.5" y1="57.1" x2="65" y2="57.1" stroke="#484a80" stroke-width="1.5"/>
<text x="66.5" y="62.1" font-size="12.4">SC</text>
<line x1="53.5" y1="71.2" x2="65" y2="71.2" stroke="#45476a" stroke-width="1.5"/>
<text x="66.5" y="76.2" font-size="12.4">DSC</text>
<line x1="53.5" y1="85.3" x2="65" y2="85.3" stroke="#8c8fbc" stroke-width="1.5"/>
<text x="66.5" y="90.3" font-size="12.4">DSC311</text>
<line x1="53.5" y1="99.4" x2="65" y2="99.4" stroke="#e7e0df" stroke-width="1.5"/>
<text x="66.5" y="104.4" font-size="12.4">DS</text>
<line x1="53.5" y1="113.5" x2="65" y2="113.5" stroke="#cca29c" stroke-width="1.5"/>
<text x="66.5" y="118.5" font-size="12.4">DC</text>
<rect x="289.50" y="38.40" width="95.00" height="94.00" fill="#2f7fbc"/>
<text x="337.00" y="90.40" text-anchor="middle" font-size="14.4" fill="#fff">0.62</text>
<rect x="384.50" y="38.40" width="94.50" height="94.00" fill="#b4d3e8"/>
<text x="431.75" y="90.40" text-anchor="middle" font-size="14.4" fill="#111">0.38</text>
<rect x="289.50" y="132.40" width="95.00" height="95.10" fill="#f7fbff"/>
<text x="337.00" y="184.95" text-anchor="middle" font-size="14.4" fill="#111">0.19</text>
<rect x="384.50" y="132.40" width="94.50" height="95.10" fill="#123669"/>
<text x="431.75" y="184.95" text-anchor="middle" font-size="14.4" fill="#fff">0.81</text>
<rect x="289.50" y="38.40" width="189.50" height="189.10" fill="none" stroke="#1a1a1a" stroke-width="1"/>
<line x1="286.0" y1="85.4" x2="289.5" y2="85.4" stroke="#111" stroke-width="1"/>
<line x1="286.0" y1="179.9" x2="289.5" y2="179.9" stroke="#111" stroke-width="1"/>
<line x1="337.0" y1="227.5" x2="337.0" y2="231.0" stroke="#111" stroke-width="1"/>
<line x1="431.8" y1="227.5" x2="431.8" y2="231.0" stroke="#111" stroke-width="1"/>
<text x="337.5" y="242.5" text-anchor="middle" font-size="13.8" fill="#111">Noise</text>
<text x="431.8" y="242.5" text-anchor="middle" font-size="13.8" fill="#111">Signal</text>
<text transform="translate(283.5,83.5) rotate(-90)" text-anchor="middle" font-size="13.8" fill="#111">Noise</text>
<text transform="translate(283.5,179) rotate(-90)" text-anchor="middle" font-size="13.8" fill="#111">Signal</text>
<text transform="translate(266.7,131.7) rotate(-90)" text-anchor="middle" font-size="13.7" font-weight="bold" fill="#111">True Label</text>
<text x="389.4" y="263.3" text-anchor="middle" font-size="13.7" font-weight="bold" fill="#111">Predicted Label</text>
<text x="384.6" y="35.3" text-anchor="middle" font-size="13.7" font-weight="bold" fill="#111">Normalized Confusion Matrix</text>
<text x="266.5" y="13.7" font-size="17" font-weight="bold" fill="#111">b</text>
<linearGradient id="blues" x1="0" y1="1" x2="0" y2="0"><stop offset="0.000" stop-color="#f7fbff"/><stop offset="0.125" stop-color="#deebf7"/><stop offset="0.250" stop-color="#c6dbef"/><stop offset="0.375" stop-color="#9ecae1"/><stop offset="0.500" stop-color="#6baed6"/><stop offset="0.625" stop-color="#4292c6"/><stop offset="0.750" stop-color="#2171b5"/><stop offset="0.875" stop-color="#08519c"/><stop offset="1.000" stop-color="#08306b"/></linearGradient>
<rect x="492.30" y="38.20" width="10.10" height="189.30" fill="url(#blues)" stroke="#1a1a1a" stroke-width="1"/>
<line x1="502.4" y1="41.6" x2="505.4" y2="41.6" stroke="#111" stroke-width="1.6"/>
<text x="507.3" y="44.4" font-size="7.8" fill="#1a1a1a" stroke="#1a1a1a" stroke-width="0.35">0.8</text>
<line x1="502.4" y1="72.0" x2="505.4" y2="72.0" stroke="#111" stroke-width="1.6"/>
<text x="507.3" y="74.8" font-size="7.8" fill="#1a1a1a" stroke="#1a1a1a" stroke-width="0.35">0.7</text>
<line x1="502.4" y1="102.4" x2="505.4" y2="102.4" stroke="#111" stroke-width="1.6"/>
<text x="507.3" y="105.2" font-size="7.8" fill="#1a1a1a" stroke="#1a1a1a" stroke-width="0.35">0.6</text>
<line x1="502.4" y1="132.8" x2="505.4" y2="132.8" stroke="#111" stroke-width="1.6"/>
<text x="507.3" y="135.6" font-size="7.8" fill="#1a1a1a" stroke="#1a1a1a" stroke-width="0.35">0.5</text>
<line x1="502.4" y1="163.2" x2="505.4" y2="163.2" stroke="#111" stroke-width="1.6"/>
<text x="507.3" y="166.0" font-size="7.8" fill="#1a1a1a" stroke="#1a1a1a" stroke-width="0.35">0.4</text>
<line x1="502.4" y1="193.6" x2="505.4" y2="193.6" stroke="#111" stroke-width="1.6"/>
<text x="507.3" y="196.4" font-size="7.8" fill="#1a1a1a" stroke="#1a1a1a" stroke-width="0.35">0.3</text>
<line x1="502.4" y1="224.0" x2="505.4" y2="224.0" stroke="#111" stroke-width="1.6"/>
<text x="507.3" y="226.8" font-size="7.8" fill="#1a1a1a" stroke="#1a1a1a" stroke-width="0.35">0.2</text>
<clipPath id="clipc"><rect x="51.50" y="320.80" width="178.00" height="140.90"/></clipPath>
<g clip-path="url(#clipc)">
<path d="M51.50,452.00 L54.00,450.30 L56.50,453.50 L60.50,461.50 L76.50,368.00 L82.60,397.60 L87.50,399.00 L94.10,378.20 L99.40,400.30 L112.60,322.00 L120.00,369.00 L127.60,359.70 L135.20,373.00 L140.00,362.40 L152.40,327.90 L162.10,347.40 L171.80,342.00 L181.50,330.60 L193.80,360.60 L201.80,356.20 L217.60,372.90 L230.00,358.00" fill="none" stroke="#d6b0a8" stroke-width="1.4" stroke-linejoin="round"/>
<path d="M51.50,461.70 L52.62,460.65 L53.73,459.58 L54.84,458.49 L55.96,457.37 L57.08,456.23 L58.19,455.07 L59.30,453.89 L60.42,452.68 L61.53,451.46 L62.65,450.21 L63.77,448.93 L64.88,447.64 L66.00,446.32 L67.11,444.98 L68.22,443.62 L69.34,442.23 L70.45,440.83 L71.57,439.40 L72.69,437.95 L73.80,436.48 L74.91,434.98 L76.03,433.47 L77.14,431.94 L78.26,430.38 L79.38,428.81 L80.49,427.21 L81.61,425.60 L82.72,423.96 L83.84,422.31 L84.95,420.64 L86.06,418.95 L87.18,417.25 L88.30,415.53 L89.41,413.79 L90.53,412.04 L91.64,410.27 L92.75,408.49 L93.87,406.70 L94.98,404.89 L96.10,403.08 L97.22,401.25 L98.33,399.41 L99.44,397.56 L100.56,395.71 L101.67,393.84 L102.79,391.97 L103.91,390.10 L105.02,388.22 L106.13,386.34 L107.25,384.46 L108.37,382.57 L109.48,380.69 L110.59,378.80 L111.71,376.92 L112.83,375.05 L113.94,373.18 L115.06,371.31 L116.17,369.46 L117.28,367.61 L118.40,365.78 L119.52,363.96 L120.63,362.15 L121.75,360.35 L122.86,358.58 L123.97,356.82 L125.09,355.08 L126.20,353.37 L127.32,351.68 L128.44,350.01 L129.55,348.37 L130.67,346.76 L131.78,345.18 L132.89,343.63 L134.01,342.11 L135.12,340.64 L136.24,339.19 L137.36,337.79 L138.47,336.43 L139.58,335.12 L140.70,333.85 L141.81,332.63 L142.93,331.45 L144.05,330.33 L145.16,329.27 L146.28,328.26 L147.39,327.31 L148.50,326.42 L149.62,325.60 L150.74,324.84 L151.85,324.16 L152.97,323.55 L154.08,323.01 L155.19,322.57 L156.31,322.21 L157.43,321.95 L158.54,321.81 L159.66,321.82 L160.77,321.89 L161.88,322.00 L163.00,322.15 L164.12,322.33 L165.23,322.55 L166.34,322.79 L167.46,323.07 L168.57,323.37 L169.69,323.69 L170.81,324.05 L171.92,324.43 L173.03,324.83 L174.15,325.26 L175.26,325.70 L176.38,326.18 L177.50,326.67 L178.61,327.18 L179.72,327.72 L180.84,328.27 L181.96,328.85 L183.07,329.44 L184.19,330.05 L185.30,330.68 L186.41,331.33 L187.53,332.00 L188.65,332.68 L189.76,333.38 L190.88,334.10 L191.99,334.83 L193.10,335.57 L194.22,336.33 L195.34,337.11 L196.45,337.90 L197.56,338.70 L198.68,339.52 L199.79,340.35 L200.91,341.20 L202.03,342.05 L203.14,342.92 L204.25,343.80 L205.37,344.69 L206.48,345.59 L207.60,346.50 L208.72,347.42 L209.83,348.35 L210.94,349.29 L212.06,350.24 L213.18,351.20 L214.29,352.17 L215.41,353.15 L216.52,354.13 L217.63,355.12 L218.75,356.12 L219.87,357.12 L220.98,358.14 L222.09,359.15 L223.21,360.18 L224.32,361.21 L225.44,362.24 L226.56,363.28 L227.67,364.33 L228.78,365.38 L229.90,366.43 L231.01,367.49 L232.13,368.55 L233.25,369.62 L234.36,370.68" fill="none" stroke="#2a2c6a" stroke-width="1.6" stroke-dasharray="4,3.5"/>
<path d="M51.50,461.70 L52.62,460.97 L53.73,460.21 L54.84,459.44 L55.96,458.64 L57.08,457.83 L58.19,456.99 L59.30,456.13 L60.42,455.25 L61.53,454.34 L62.65,453.41 L63.77,452.46 L64.88,451.48 L66.00,450.49 L67.11,449.46 L68.22,448.41 L69.34,447.34 L70.45,446.25 L71.57,445.13 L72.69,443.98 L73.80,442.81 L74.91,441.61 L76.03,440.39 L77.14,439.14 L78.26,437.87 L79.38,436.57 L80.49,435.25 L81.61,433.90 L82.72,432.53 L83.84,431.13 L84.95,429.70 L86.06,428.25 L87.18,426.77 L88.30,425.27 L89.41,423.75 L90.53,422.20 L91.64,420.63 L92.75,419.03 L93.87,417.41 L94.98,415.77 L96.10,414.10 L97.22,412.41 L98.33,410.70 L99.44,408.97 L100.56,407.22 L101.67,405.45 L102.79,403.66 L103.91,401.85 L105.02,400.02 L106.13,398.18 L107.25,396.32 L108.37,394.45 L109.48,392.56 L110.59,390.67 L111.71,388.75 L112.83,386.83 L113.94,384.90 L115.06,382.96 L116.17,381.02 L117.28,379.07 L118.40,377.11 L119.52,375.16 L120.63,373.20 L121.75,371.24 L122.86,369.29 L123.97,367.34 L125.09,365.39 L126.20,363.46 L127.32,361.53 L128.44,359.62 L129.55,357.72 L130.67,355.83 L131.78,353.97 L132.89,352.12 L134.01,350.30 L135.12,348.50 L136.24,346.73 L137.36,344.99 L138.47,343.28 L139.58,341.61 L140.70,339.98 L141.81,338.39 L142.93,336.85 L144.05,335.35 L145.16,333.90 L146.28,332.51 L147.39,331.18 L148.50,329.90 L149.62,328.70 L150.74,327.57 L151.85,326.51 L152.97,325.53 L154.08,324.64 L155.19,323.85 L156.31,323.16 L157.43,322.58 L158.54,322.14 L159.66,321.86 L160.77,321.82 L161.88,321.95 L163.00,322.16 L164.12,322.43 L165.23,322.75 L166.34,323.12 L167.46,323.54 L168.57,324.00 L169.69,324.51 L170.81,325.05 L171.92,325.62 L173.03,326.24 L174.15,326.88 L175.26,327.56 L176.38,328.26 L177.50,329.00 L178.61,329.76 L179.72,330.55 L180.84,331.37 L181.96,332.21 L183.07,333.07 L184.19,333.96 L185.30,334.87 L186.41,335.80 L187.53,336.75 L188.65,337.72 L189.76,338.70 L190.88,339.71 L191.99,340.73 L193.10,341.77 L194.22,342.82 L195.34,343.89 L196.45,344.97 L197.56,346.06 L198.68,347.17 L199.79,348.29 L200.91,349.42 L202.03,350.56 L203.14,351.71 L204.25,352.87 L205.37,354.04 L206.48,355.21 L207.60,356.40 L208.72,357.59 L209.83,358.79 L210.94,359.99 L212.06,361.20 L213.18,362.41 L214.29,363.63 L215.41,364.85 L216.52,366.08 L217.63,367.30 L218.75,368.54 L219.87,369.77 L220.98,371.00 L222.09,372.24 L223.21,373.47 L224.32,374.71 L225.44,375.94 L226.56,377.18 L227.67,378.41 L228.78,379.65 L229.90,380.88 L231.01,382.11 L232.13,383.33 L233.25,384.56 L234.36,385.78" fill="none" stroke="#262863" stroke-width="1.6"/>
</g>
<path d="M51.5,321.8 H229.5 V461.7 H51.5 Z" fill="none" stroke="#333" stroke-width="1.4"/>
<line x1="96.1" y1="461.7" x2="96.1" y2="459.2" stroke="#333" stroke-width="1"/>
<line x1="96.1" y1="321.8" x2="96.1" y2="324.3" stroke="#333" stroke-width="1"/>
<line x1="140.7" y1="461.7" x2="140.7" y2="459.2" stroke="#333" stroke-width="1"/>
<line x1="140.7" y1="321.8" x2="140.7" y2="324.3" stroke="#333" stroke-width="1"/>
<line x1="185.3" y1="461.7" x2="185.3" y2="459.2" stroke="#333" stroke-width="1"/>
<line x1="185.3" y1="321.8" x2="185.3" y2="324.3" stroke="#333" stroke-width="1"/>
<line x1="51.5" y1="391.8" x2="54.0" y2="391.8" stroke="#333" stroke-width="1"/>
<line x1="229.5" y1="391.8" x2="227.0" y2="391.8" stroke="#333" stroke-width="1"/>
<text x="58.6" y="477.2" text-anchor="middle" font-size="12.5">580</text>
<text x="97.9" y="477.2" text-anchor="middle" font-size="12.5">600</text>
<text x="141.6" y="477.2" text-anchor="middle" font-size="12.5">620</text>
<text x="185.2" y="477.2" text-anchor="middle" font-size="12.5">640</text>
<text x="228.2" y="477.2" text-anchor="middle" font-size="12.5">660</text>
<text x="43" y="328.3" text-anchor="end" font-size="12.5">1</text>
<text x="41" y="397.9" text-anchor="end" font-size="12.5">0.5</text>
<text x="44.5" y="467.6" text-anchor="end" font-size="12.5">0</text>
<text x="120" y="504.7" text-anchor="middle" font-size="13.7" font-weight="bold">Wavelength [nm]</text>
<text transform="translate(15.4,385.3) rotate(-90)" text-anchor="middle" font-size="12.9" font-weight="bold">Normalized Intensity</text>
<text x="134.5" y="312.6" text-anchor="middle" font-size="13.8" font-weight="bold">Averaged Spectrum</text>
<text x="5" y="279.3" font-size="16.5" font-weight="bold">c</text>
<rect x="124.1" y="399.9" width="96.5" height="53.3" fill="#fff" stroke="#333" stroke-width="1"/>
<line x1="126.2" y1="406.2" x2="137.4" y2="406.2" stroke="#3a3c72" stroke-width="1.6"/>
<path d="M126.2,425.4 H129.5 M134,425.4 H137.4" stroke="#2a2c6a" stroke-width="1.6"/>
<line x1="126.2" y1="443.2" x2="137.4" y2="443.2" stroke="#e0b0aa" stroke-width="1.5"/>
<text x="139.8" y="412" font-size="12">avg. output</text>
<text x="139.8" y="430.3" font-size="12">ground truth</text>
<text x="139.8" y="448.3" font-size="12">avg. raw</text>
<rect x="326.0" y="297.6" width="175.5" height="167.5" fill="none" stroke="#333" stroke-width="1.4"/>
<line x1="326.0" y1="465.1" x2="328.5" y2="465.1" stroke="#333" stroke-width="1"/>
<line x1="501.5" y1="465.1" x2="499.0" y2="465.1" stroke="#333" stroke-width="1"/>
<text x="322" y="469.7" text-anchor="end" font-size="12.7">560</text>
<line x1="326.0" y1="439.4" x2="328.5" y2="439.4" stroke="#333" stroke-width="1"/>
<line x1="501.5" y1="439.4" x2="499.0" y2="439.4" stroke="#333" stroke-width="1"/>
<text x="322" y="444.0" text-anchor="end" font-size="12.7">580</text>
<line x1="326.0" y1="413.7" x2="328.5" y2="413.7" stroke="#333" stroke-width="1"/>
<line x1="501.5" y1="413.7" x2="499.0" y2="413.7" stroke="#333" stroke-width="1"/>
<text x="322" y="418.3" text-anchor="end" font-size="12.7">600</text>
<line x1="326.0" y1="388.0" x2="328.5" y2="388.0" stroke="#333" stroke-width="1"/>
<line x1="501.5" y1="388.0" x2="499.0" y2="388.0" stroke="#333" stroke-width="1"/>
<text x="322" y="392.6" text-anchor="end" font-size="12.7">620</text>
<line x1="326.0" y1="362.3" x2="328.5" y2="362.3" stroke="#333" stroke-width="1"/>
<line x1="501.5" y1="362.3" x2="499.0" y2="362.3" stroke="#333" stroke-width="1"/>
<text x="322" y="366.9" text-anchor="end" font-size="12.7">640</text>
<line x1="326.0" y1="336.6" x2="328.5" y2="336.6" stroke="#333" stroke-width="1"/>
<line x1="501.5" y1="336.6" x2="499.0" y2="336.6" stroke="#333" stroke-width="1"/>
<text x="322" y="341.2" text-anchor="end" font-size="12.7">660</text>
<line x1="326.0" y1="310.9" x2="328.5" y2="310.9" stroke="#333" stroke-width="1"/>
<line x1="501.5" y1="310.9" x2="499.0" y2="310.9" stroke="#333" stroke-width="1"/>
<text x="322" y="315.5" text-anchor="end" font-size="12.7">680</text>
<line x1="356.7" y1="465.1" x2="356.7" y2="462.6" stroke="#333" stroke-width="1"/>
<line x1="356.7" y1="297.6" x2="356.7" y2="300.1" stroke="#333" stroke-width="1"/>
<line x1="388.8" y1="465.1" x2="388.8" y2="462.6" stroke="#333" stroke-width="1"/>
<line x1="388.8" y1="297.6" x2="388.8" y2="300.1" stroke="#333" stroke-width="1"/>
<line x1="420.8" y1="465.1" x2="420.8" y2="462.6" stroke="#333" stroke-width="1"/>
<line x1="420.8" y1="297.6" x2="420.8" y2="300.1" stroke="#333" stroke-width="1"/>
<line x1="452.9" y1="465.1" x2="452.9" y2="462.6" stroke="#333" stroke-width="1"/>
<line x1="452.9" y1="297.6" x2="452.9" y2="300.1" stroke="#333" stroke-width="1"/>
<line x1="485.1" y1="465.1" x2="485.1" y2="462.6" stroke="#333" stroke-width="1"/>
<line x1="485.1" y1="297.6" x2="485.1" y2="300.1" stroke="#333" stroke-width="1"/>
<path d="M341.8,313.3 V366.4 M341.8,464.6 V417.2" stroke="#2f2f4a" stroke-width="1.6" stroke-dasharray="4,4.2"/>
<path d="M338.3,313.3 H345.3 M338.3,464.6 H345.3" stroke="#2f2f4a" stroke-width="1.5"/>
<rect x="335.0" y="366.4" width="13.6" height="50.8" fill="#dfc0ba" stroke="#5c4d5c" stroke-width="1"/>
<path d="M374.2,313.3 V354.4 M374.2,464.6 V406.2" stroke="#2f2f4a" stroke-width="1.6" stroke-dasharray="4,4.2"/>
<path d="M370.7,313.3 H377.7 M370.7,464.6 H377.7" stroke="#2f2f4a" stroke-width="1.5"/>
<rect x="367.4" y="354.4" width="13.6" height="51.8" fill="#dfc0ba" stroke="#5c4d5c" stroke-width="1"/>
<path d="M406.3,313.3 V358.0 M406.3,464.6 V411.8" stroke="#2f2f4a" stroke-width="1.6" stroke-dasharray="4,4.2"/>
<path d="M402.8,313.3 H409.8 M402.8,464.6 H409.8" stroke="#2f2f4a" stroke-width="1.5"/>
<rect x="399.5" y="358.0" width="13.6" height="53.8" fill="#dfc0ba" stroke="#5c4d5c" stroke-width="1"/>
<path d="M438.5,313.3 V351.8 M438.5,429.0 V383.2" stroke="#2f2f4a" stroke-width="1.6" stroke-dasharray="4,4.2"/>
<line x1="438.5" y1="429.0" x2="438.5" y2="465.1" stroke="#e0191c" stroke-width="3"/>
<path d="M435.0,313.3 H442.0 M435.0,429.0 H442.0" stroke="#2f2f4a" stroke-width="1.5"/>
<rect x="431.7" y="351.8" width="13.6" height="31.4" fill="#dfc0ba" stroke="#5c4d5c" stroke-width="1"/>
<path d="M470.7,339.3 V342.6 M470.7,436.0 V380.9" stroke="#2f2f4a" stroke-width="1.6" stroke-dasharray="4,4.2"/>
<line x1="470.7" y1="436.0" x2="470.7" y2="465.1" stroke="#e0191c" stroke-width="3"/>
<path d="M467.2,339.3 H474.2 M467.2,436.0 H474.2" stroke="#2f2f4a" stroke-width="1.5"/>
<rect x="463.9" y="342.6" width="13.6" height="38.3" fill="#dfc0ba" stroke="#5c4d5c" stroke-width="1"/>
<path d="M356.7,387.8 V389.2 M356.7,397.6 V395.4" stroke="#34356a" stroke-width="1.6" stroke-dasharray="4,4.2"/>
<line x1="356.7" y1="368.2" x2="356.7" y2="385.8" stroke="#e0191c" stroke-width="3"/>
<line x1="356.7" y1="399.6" x2="356.7" y2="409.0" stroke="#e0191c" stroke-width="3"/>
<path d="M353.5,385.8 H359.9 M353.5,399.6 H359.9" stroke="#2f3060" stroke-width="1.5"/>
<rect x="349.7" y="389.2" width="14" height="6.2" fill="#65679a" stroke="#35376a" stroke-width="1"/>
<path d="M388.8,364.4 V376.4 M388.8,396.4 V388.3" stroke="#34356a" stroke-width="1.6" stroke-dasharray="4,4.2"/>
<path d="M385.6,362.4 H392.0 M385.6,398.4 H392.0" stroke="#2f3060" stroke-width="1.5"/>
<rect x="381.8" y="376.4" width="14" height="11.9" fill="#65679a" stroke="#35376a" stroke-width="1"/>
<path d="M420.8,364.7 V372.2 M420.8,396.8 V387.0" stroke="#34356a" stroke-width="1.6" stroke-dasharray="4,4.2"/>
<path d="M417.6,362.7 H424.0 M417.6,398.8 H424.0" stroke="#2f3060" stroke-width="1.5"/>
<rect x="413.8" y="372.2" width="14" height="14.8" fill="#65679a" stroke="#35376a" stroke-width="1"/>
<path d="M452.9,365.5 V368.2 M452.9,374.6 V372.9" stroke="#34356a" stroke-width="1.6" stroke-dasharray="4,4.2"/>
<line x1="452.9" y1="358.8" x2="452.9" y2="363.5" stroke="#e0191c" stroke-width="3"/>
<line x1="452.9" y1="377.6" x2="452.9" y2="395.5" stroke="#e0191c" stroke-width="3"/>
<path d="M449.7,363.5 H456.1 M449.7,376.6 H456.1" stroke="#2f3060" stroke-width="1.5"/>
<rect x="445.9" y="368.2" width="14" height="4.7" fill="#65679a" stroke="#35376a" stroke-width="1"/>
<path d="M485.1,356.9 V363.2 M485.1,374.9 V370.6" stroke="#34356a" stroke-width="1.6" stroke-dasharray="4,4.2"/>
<line x1="485.1" y1="348.6" x2="485.1" y2="354.9" stroke="#e0191c" stroke-width="3"/>
<line x1="485.1" y1="379.2" x2="485.1" y2="389.0" stroke="#e0191c" stroke-width="3"/>
<path d="M481.9,354.9 H488.3 M481.9,376.9 H488.3" stroke="#2f3060" stroke-width="1.5"/>
<rect x="478.1" y="363.2" width="14" height="7.4" fill="#65679a" stroke="#35376a" stroke-width="1"/>
<path d="M341.80,391.90 L374.20,380.60 L406.30,381.60 L438.50,370.80 L470.70,366.00" fill="none" stroke="#e8c4b4" stroke-width="1.5" stroke-linejoin="round" opacity="0.85"/>
<path d="M356.70,392.50 L388.80,382.20 L420.80,380.60 L452.90,371.20 L485.10,367.00" fill="none" stroke="#2c2e72" stroke-width="1.4" stroke-linejoin="round"/>
<rect x="426.4" y="302.8" width="61.6" height="32.6" fill="#fff" stroke="#333" stroke-width="1"/>
<rect x="428.7" y="307.8" width="11.8" height="7.1" fill="#65679a"/>
<rect x="428.7" y="322.0" width="11.8" height="7.8" fill="#dfc0ba"/>
<text x="441.7" y="315.5" font-size="12.3">outputs</text>
<text x="441.7" y="329.8" font-size="12.3">raw</text>
<text transform="translate(297.3,382.7) rotate(-90)" text-anchor="middle" font-size="13.7" font-weight="bold">Wavelength [nm]</text>
<text x="266.8" y="280" font-size="16.5" font-weight="bold">d</text>
<text transform="translate(366.2,478) rotate(-30)" text-anchor="end" font-size="13">SC</text>
<text transform="translate(398.3,478) rotate(-30)" text-anchor="end" font-size="13">DSC</text>
<text transform="translate(430.3,478) rotate(-30)" text-anchor="end" font-size="13">DSC311</text>
<text transform="translate(462.4,478) rotate(-30)" text-anchor="end" font-size="13">DS</text>
<text transform="translate(494.6,478) rotate(-30)" text-anchor="end" font-size="13">DC</text>
</svg></body></html>
